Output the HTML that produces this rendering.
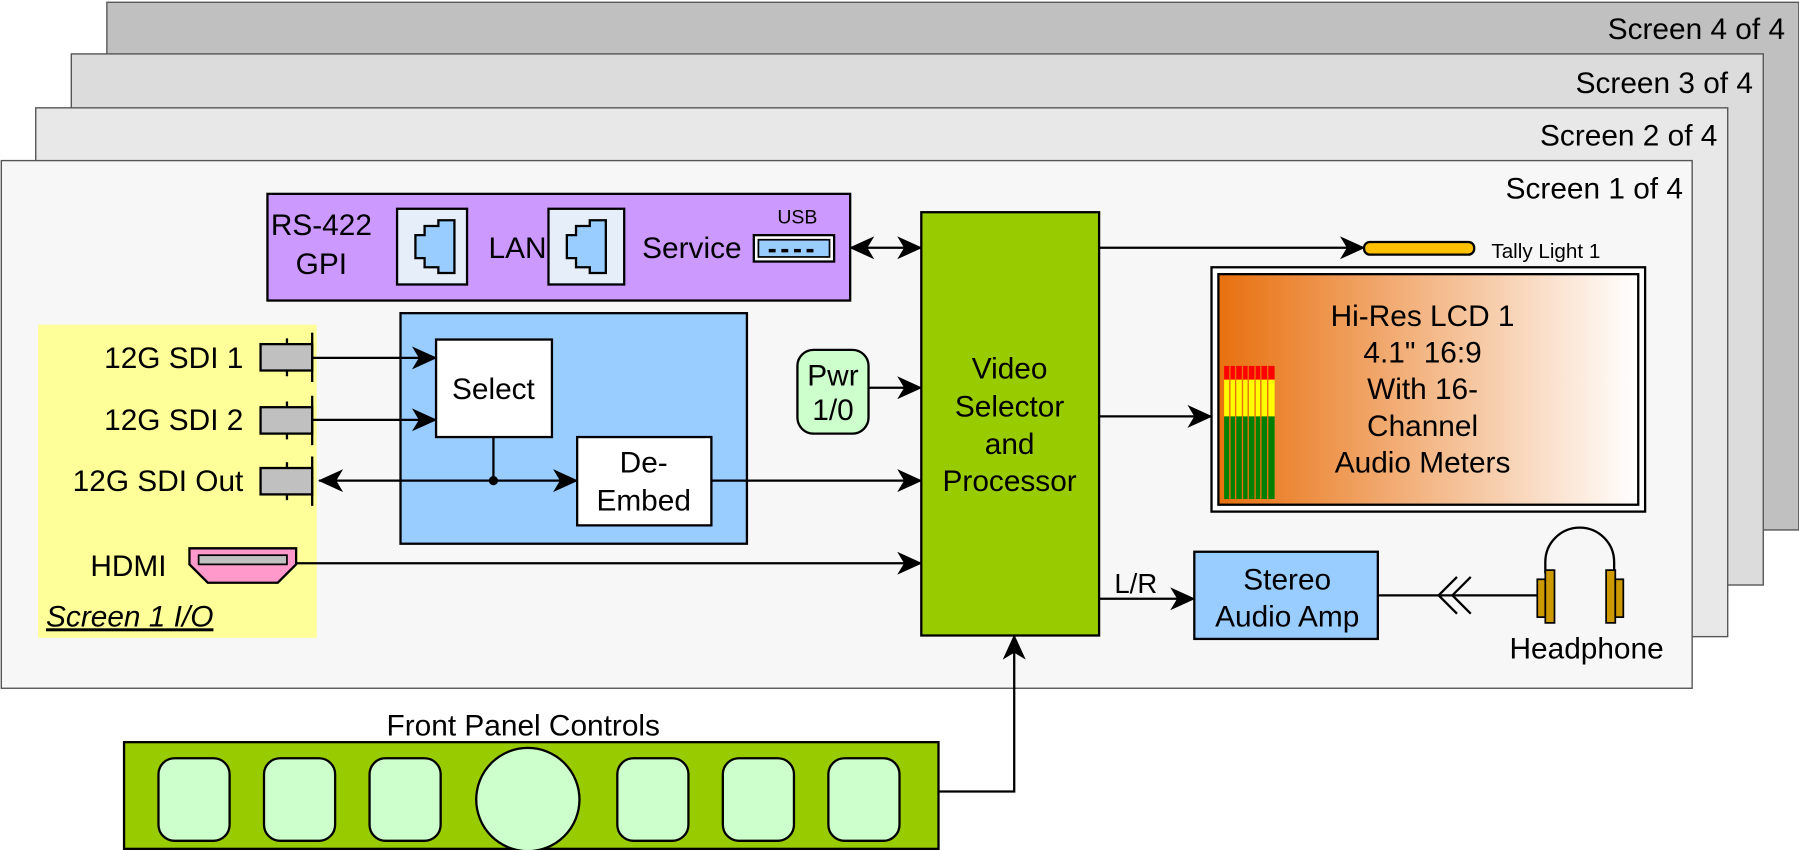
<!DOCTYPE html>
<html><head><style>html,body{margin:0;padding:0;background:#fff}svg{display:block}text{font-family:"Liberation Sans",Arial,sans-serif;fill:#000}</style></head><body>
<svg width="1799" height="850" viewBox="0 0 1568 741" xmlns="http://www.w3.org/2000/svg">
<defs>
<marker id="as" markerWidth="22" markerHeight="20" refX="21" refY="10" orient="auto-start-reverse" markerUnits="userSpaceOnUse"><path d="M0,0 L22,10 L0,20 L6,10z" fill="#000"/></marker>
<linearGradient id="g" x1="0" x2="1"><stop offset="0" stop-color="#e8700f"/><stop offset="1" stop-color="#fff"/></linearGradient></defs>
<g stroke="#555" stroke-width="1.2">
<rect x="93" y="2" width="1475" height="460" fill="#c0c0c0"/>
<rect x="62" y="47" width="1475" height="463" fill="#dcdcdc"/>
<rect x="31" y="94" width="1475" height="461" fill="#e8e8e8"/>
<rect x="1" y="140" width="1474" height="460" fill="#f7f7f7"/>
</g>
<g font-size="26" text-anchor="end">
<text x="1556" y="34">Screen 4 of 4</text><text x="1528" y="81">Screen 3 of 4</text><text x="1497" y="127">Screen 2 of 4</text><text x="1467" y="173">Screen 1 of 4</text></g>
<g stroke="#000" stroke-width="2">
<rect x="233" y="169" width="508" height="93" fill="#cc99ff"/>
<rect x="346" y="182" width="61" height="66" fill="#e6eefa"/>
<rect x="478" y="182" width="66" height="66" fill="#e6eefa"/>
<rect x="657" y="205" width="70" height="23" fill="#fff"/><rect x="661" y="209" width="62" height="15" fill="#99ccff" stroke-width="1.5"/>
<rect x="803" y="185" width="155" height="369" fill="#99cc00"/>
<rect x="33" y="283" width="243" height="273" fill="#ffff99" stroke="none"/>
<rect x="349" y="273" width="302" height="201" fill="#99ccff"/>
<rect x="380" y="296" width="101" height="85" fill="#fff"/>
<rect x="503" y="381" width="117" height="77" fill="#fff"/>
<rect x="695" y="305" width="62" height="73" rx="14" fill="#ccffcc"/>
<rect x="1189" y="211" width="96" height="11" rx="5" fill="#ffc000"/>
<rect x="1056" y="233" width="378" height="213" fill="#fff"/>
<rect x="1062" y="239" width="366" height="201" fill="url(#g)"/>
<rect x="1041" y="481" width="160" height="76" fill="#99ccff"/>
<rect x="108" y="647" width="710" height="93" fill="#99cc00"/>
</g>
<g stroke="#000" stroke-width="2" fill="none">
<path d="M362,205h8v-8h12v-5h14v46h-14v-5h-12v-8h-8z" fill="#99ccff"/>
<path d="M494,205h8v-8h12v-5h14v46h-14v-5h-12v-8h-8z" fill="#99ccff"/>
</g>
<g fill="#000"><rect x="670" y="217" width="6" height="3"/><rect x="681" y="217" width="6" height="3"/><rect x="692" y="217" width="6" height="3"/><rect x="703" y="217" width="6" height="3"/></g>
<g font-size="26" text-anchor="middle">
<text x="280" y="205">RS-422</text><text x="280" y="239">GPI</text><text x="451" y="225">LAN</text><text x="603" y="225">Service</text>
<text x="695" y="195" font-size="17">USB</text>
<text x="880" y="330">Video</text><text x="880" y="363">Selector</text><text x="880" y="396">and</text><text x="880" y="428">Processor</text>
<text x="430" y="348">Select</text><text x="561" y="412">De-</text><text x="561" y="445">Embed</text>
<text x="726" y="336">Pwr</text><text x="726" y="366">1/0</text>
<text x="1240" y="284">Hi-Res LCD 1</text><text x="1240" y="316">4.1" 16:9</text><text x="1240" y="348">With 16-</text><text x="1240" y="380">Channel</text><text x="1240" y="412">Audio Meters</text>
<text x="1122" y="514">Stereo</text><text x="1122" y="546">Audio Amp</text>
<text x="1383" y="574">Headphone</text><text x="456" y="641">Front Panel Controls</text>
</g>
<text x="1300" y="225" font-size="18">Tally Light 1</text>
<text x="990" y="517" font-size="24" text-anchor="middle">L/R</text>
<g font-size="26" text-anchor="end"><text x="212" y="321">12G SDI 1</text><text x="212" y="375">12G SDI 2</text><text x="212" y="428">12G SDI Out</text><text x="145" y="502">HDMI</text></g>
<text x="40" y="546" font-size="26" font-style="italic" text-decoration="underline">Screen 1 I/O</text>
<g stroke="#000" stroke-width="2">
<rect x="227" y="300" width="45" height="23" fill="#c0c0c0"/><rect x="227" y="355" width="45" height="23" fill="#c0c0c0"/><rect x="227" y="408" width="45" height="23" fill="#c0c0c0"/>
<path d="M272,290v43M272,345v43M272,398v43M250,295v5M250,323v5M250,350v5M250,378v5M250,403v5M250,431v5"/>
<path d="M165,478h93v14l-16,16h-61l-16,-16z" fill="#ff99cc"/><rect x="173" y="484" width="77" height="8" fill="#c0c0c0" stroke-width="1.5"/>
</g>
<g stroke="#000" stroke-width="2" fill="none">
<path d="M272,312H380" marker-end="url(#as)"/><path d="M272,366H380" marker-end="url(#as)"/>
<path d="M278,419H503" marker-start="url(#as)" marker-end="url(#as)"/><path d="M430,381V419"/>
<path d="M620,419H803" marker-end="url(#as)"/><path d="M757,338H803" marker-end="url(#as)"/>
<path d="M258,491H803" marker-end="url(#as)"/><path d="M741,216H803" marker-start="url(#as)" marker-end="url(#as)"/>
<path d="M958,216H1189" marker-end="url(#as)"/><path d="M958,363H1056" marker-end="url(#as)"/>
<path d="M958,522H1041" marker-end="url(#as)"/><path d="M1201,519H1340"/>
<path d="M1270,503l-16,16l16,16M1282,503l-16,16l16,16"/>
<path d="M818,690H884V554" marker-end="url(#as)"/>
<path d="M1347,500V490a30,30 0 0 1 60,0V500"/>
</g>
<circle cx="430" cy="419" r="4" fill="#000"/>
<g stroke="#000" stroke-width="1.5" fill="#cc9900">
<rect x="1340" y="505" width="7" height="33"/><rect x="1347" y="497" width="8" height="46"/>
<rect x="1400" y="497" width="8" height="46"/><rect x="1408" y="505" width="7" height="33"/></g>
<g>
<rect x="1067" y="319" width="44" height="12" fill="#ff0000"/><rect x="1067" y="331" width="44" height="32" fill="#ffff00"/><rect x="1067" y="363" width="44" height="72" fill="#008000"/>
<g stroke="#e8700f" stroke-width="1.2"><path d="M1072,319v116M1077,319v116M1083,319v116M1088,319v116M1094,319v116M1099,319v116M1105,319v116"/></g>
</g>
<g stroke="#000" stroke-width="2" fill="#ccffcc">
<rect x="138" y="661" width="62" height="72" rx="14"/><rect x="230" y="661" width="62" height="72" rx="14"/><rect x="322" y="661" width="62" height="72" rx="14"/>
<circle cx="460" cy="697" r="45"/>
<rect x="538" y="661" width="62" height="72" rx="14"/><rect x="630" y="661" width="62" height="72" rx="14"/><rect x="722" y="661" width="62" height="72" rx="14"/>
</g>
</svg>
</body></html>
